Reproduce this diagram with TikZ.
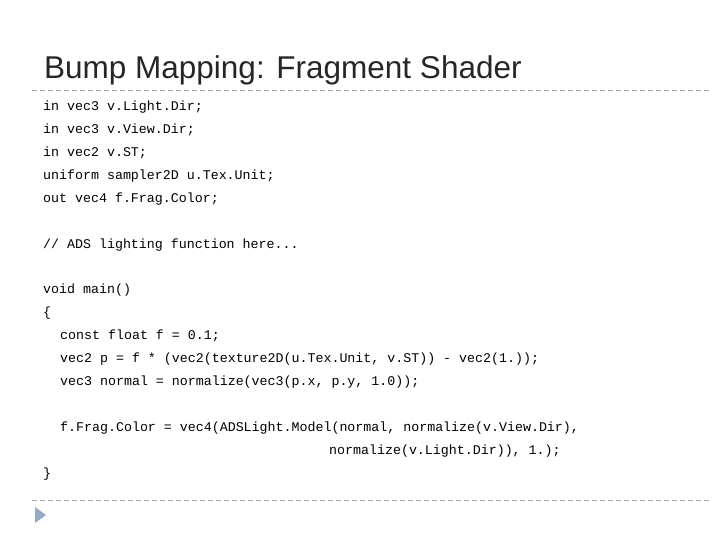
\documentclass[tikz,border=0pt]{standalone}
\usepackage{fontspec}
\setmainfont{Liberation Sans}
\newfontfamily\codefont{Liberation Mono}
\begin{document}
\begin{tikzpicture}[x=1pt,y=-1pt,
  code/.style={anchor=west,inner sep=0pt,font=\codefont\fontsize{13.3}{15}\selectfont},
  rule/.style={draw=gray!70,dashed,dash pattern=on 5pt off 3pt}]
\useasboundingbox (0,0) rectangle (720,540);
\node[anchor=base west,inner sep=0pt,font=\fontsize{31.5}{36}\selectfont,text=black!85] (title) at (44,79) {Bump Mapping: Fragment Shader};
\coordinate (l1) at (32,90); \coordinate (l2) at (712,90);
\draw[rule] (l1) -- (l2);
\coordinate (b1) at (32,500); \coordinate (b2) at (712,500);
\draw[rule] (b1) -- (b2);
\fill[color={rgb,255:red,149;green,170;blue,200}] (35,507) -- (46,515) -- (35,523) -- cycle;
\foreach \t/\x/\y [count=\i] in {
 {in vec3 v.Light.Dir;}/43/107,
 {in vec3 v.View.Dir;}/43/130,
 {in vec2 v.ST;}/43/153,
 {uniform sampler2D u.Tex.Unit;}/43/176,
 {out vec4 f.Frag.Color;}/43/199,
 {// ADS lighting function here...}/43/245,
 {void main()}/43/290,
 {\{}/43/313,
 {const float f = 0.1;}/60/336,
 {vec2 p = f * (vec2(texture2D(u.Tex.Unit, v.ST)) - vec2(1.));}/60/359,
 {vec3 normal = normalize(vec3(p.x, p.y, 1.0));}/60/382,
 {f.Frag.Color = vec4(ADSLight.Model(normal, normalize(v.View.Dir),}/60/428,
 {normalize(v.Light.Dir)), 1.);}/329/451,
 {\}}/43/474}
 \node[code] (c\i) at (\x,\y) {\t};
\end{tikzpicture}
\end{document}
